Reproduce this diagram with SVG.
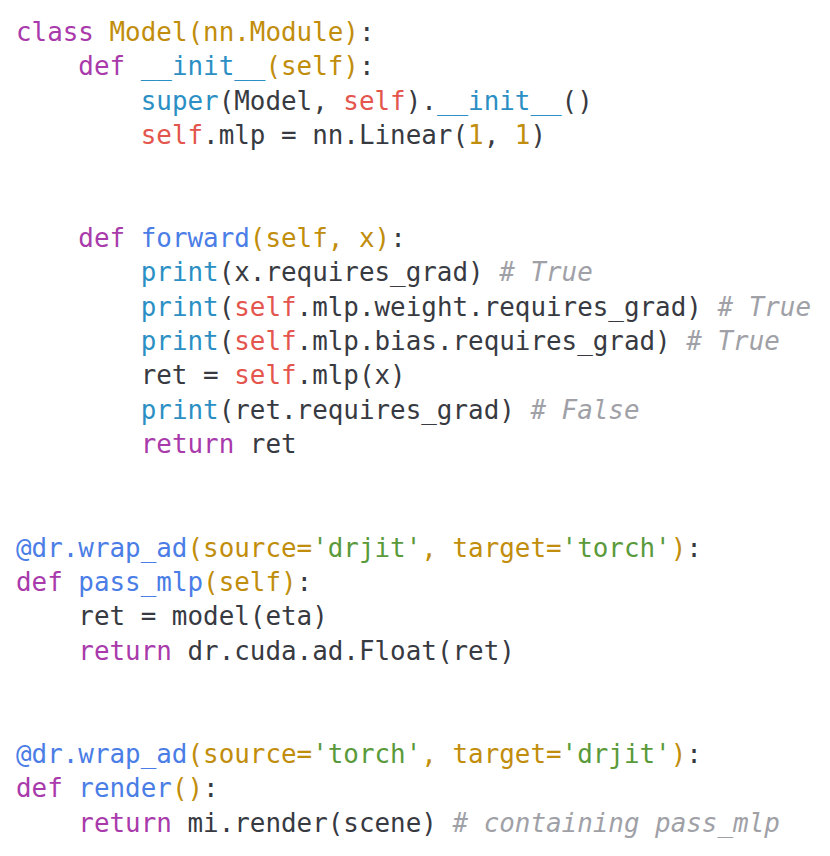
<svg xmlns="http://www.w3.org/2000/svg" width="830" height="856" viewBox="0 0 830 856">
<style>
text{font-family:"DejaVu Sans Mono","Liberation Mono",monospace;font-size:25.9px;fill:#383a42;white-space:pre}
.k{fill:#a93aab}.c{fill:#c18d0c}.s{fill:#e4554d}.b{fill:#2b8fc4}.f{fill:#4a7de6}.g{fill:#5a9a3a}.m{fill:#a0a1a7;font-style:italic}
</style>
<rect width="830" height="856" fill="#ffffff"/>
<g id="code" xml:space="preserve">
<text x="16" y="41"><tspan class="k">class</tspan> <tspan class="c">Model(nn.Module)</tspan>:</text>
<text x="16" y="75">    <tspan class="k">def</tspan> <tspan class="b">__init__</tspan><tspan class="c">(self)</tspan>:</text>
<text x="16" y="110">        <tspan class="b">super</tspan>(Model, <tspan class="s">self</tspan>).<tspan class="b">__init__</tspan>()</text>
<text x="16" y="144">        <tspan class="s">self</tspan>.mlp = nn.Linear(<tspan class="c">1</tspan>, <tspan class="c">1</tspan>)</text>
<text x="16" y="247">    <tspan class="k">def</tspan> <tspan class="f">forward</tspan><tspan class="c">(self, x)</tspan>:</text>
<text x="16" y="281">        <tspan class="b">print</tspan>(x.requires_grad) <tspan class="m"># True</tspan></text>
<text x="16" y="316">        <tspan class="b">print</tspan>(<tspan class="s">self</tspan>.mlp.weight.requires_grad) <tspan class="m"># True</tspan></text>
<text x="16" y="350">        <tspan class="b">print</tspan>(<tspan class="s">self</tspan>.mlp.bias.requires_grad) <tspan class="m"># True</tspan></text>
<text x="16" y="384">        ret = <tspan class="s">self</tspan>.mlp(x)</text>
<text x="16" y="419">        <tspan class="b">print</tspan>(ret.requires_grad) <tspan class="m"># False</tspan></text>
<text x="16" y="453">        <tspan class="k">return</tspan> ret</text>
<text x="16" y="557"><tspan class="f">@dr.wrap_ad</tspan><tspan class="c">(source=</tspan><tspan class="g">'drjit'</tspan><tspan class="c">, target=</tspan><tspan class="g">'torch'</tspan><tspan class="c">)</tspan>:</text>
<text x="16" y="591"><tspan class="k">def</tspan> <tspan class="f">pass_mlp</tspan><tspan class="c">(self)</tspan>:</text>
<text x="16" y="625">    ret = model(eta)</text>
<text x="16" y="660">    <tspan class="k">return</tspan> dr.cuda.ad.Float(ret)</text>
<text x="16" y="763"><tspan class="f">@dr.wrap_ad</tspan><tspan class="c">(source=</tspan><tspan class="g">'torch'</tspan><tspan class="c">, target=</tspan><tspan class="g">'drjit'</tspan><tspan class="c">)</tspan>:</text>
<text x="16" y="797"><tspan class="k">def</tspan> <tspan class="f">render</tspan><tspan class="c">()</tspan>:</text>
<text x="16" y="832">    <tspan class="k">return</tspan> mi.render(scene) <tspan class="m"># containing pass_mlp</tspan></text>
</g>
</svg>
